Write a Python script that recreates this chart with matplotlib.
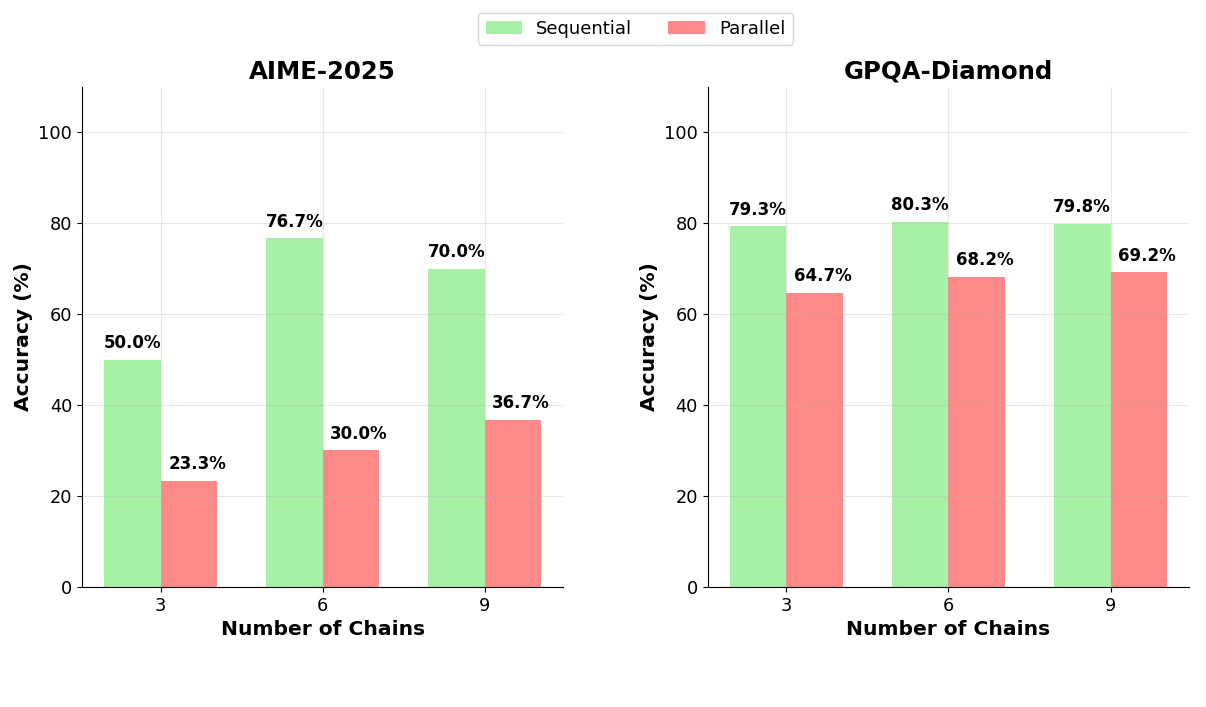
import matplotlib
matplotlib.use("Agg")
import matplotlib.pyplot as plt
import numpy as np

chains = ["3", "6", "9"]
datasets = ["AIME-2025", "GPQA-Diamond"]
sequential = [[50.0, 76.7, 70.0], [79.3, 80.3, 79.8]]
parallel = [[23.3, 30.0, 36.7], [64.7, 68.2, 69.2]]

fig, axes = plt.subplots(1, 2, figsize=(12.06, 7.07), dpi=100)
plt.subplots_adjust(left=0.068, right=0.986, top=0.877, bottom=0.17, wspace=0.3)

x = np.arange(len(chains))
width = 0.35

for ax, name, seq, par in zip(axes, datasets, sequential, parallel):
    b1 = ax.bar(x - width / 2, seq, width, color="#90ee90", alpha=0.8, label="Sequential")
    b2 = ax.bar(x + width / 2, par, width, color="#ff6b6b", alpha=0.8, label="Parallel")
    # parallel labels sit a little right of the bar centre in the original
    for bars, shift in ((b1, 0.0), (b2, 0.05)):
        for b in bars:
            h = b.get_height()
            ax.text(b.get_x() + b.get_width() / 2 + shift, h + 1.7, f"{h:.1f}%",
                    ha="center", va="bottom", fontsize=12, fontweight="bold")
    ax.set_title(name, fontsize=17.6, fontweight="bold")
    ax.set_xlabel("Number of Chains", fontsize=14.6, fontweight="bold")
    ax.set_ylabel("Accuracy (%)", fontsize=14.6, fontweight="bold")
    ax.set_xticks(x)
    ax.set_xticklabels(chains)
    ax.tick_params(labelsize=12.8)
    ax.set_ylim(0, 110)
    ax.grid(True, alpha=0.3)
    ax.spines["top"].set_visible(False)
    ax.spines["right"].set_visible(False)

handles, labels = axes[0].get_legend_handles_labels()
fig.legend(handles, labels, loc="upper center", ncol=2, fontsize=13,
           bbox_to_anchor=(0.527, 0.995), columnspacing=2.0)

fig.savefig("out.png", dpi=100)
